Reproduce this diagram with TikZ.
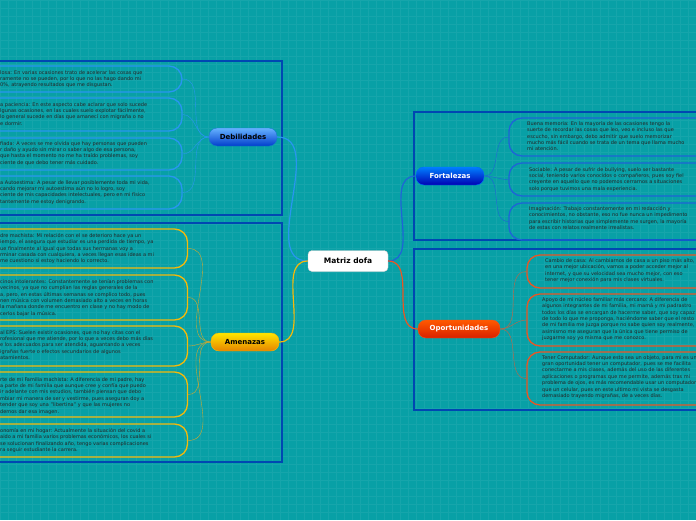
\documentclass[tikz,border=0pt]{standalone}
\usepackage{fontspec}
\setmainfont{DejaVu Sans}
\begin{document}
\begin{tikzpicture}[x=1pt,y=-1pt,
  lt/.style={anchor=north west,inner sep=0pt,align=left,font=\fontsize{5}{6.4}\selectfont,text=black!85},
  leaf/.style={draw,line width=1.3pt,rounded corners=13pt,minimum width=#1},
  br/.style={rounded corners=8pt,minimum width=68pt,minimum height=18pt,font=\fontsize{7}{8}\selectfont\bfseries,inner sep=0pt},
  panel/.style={draw=blue!60!cyan!70!black,line width=1.5pt}]
\definecolor{bg}{RGB}{8,160,166}
\definecolor{dbl}{RGB}{40,150,240}
\definecolor{yel}{RGB}{245,185,10}
\definecolor{fbl}{RGB}{30,100,215}
\definecolor{ored}{RGB}{235,85,35}
\useasboundingbox (0,0) rectangle (696,520);
\clip (0,0) rectangle (696,520);
\fill[bg] (0,0) rectangle (696,520);
\draw[white,opacity=0.06,step=8pt] (0,0) grid (696,520);
% panels
\draw[panel] (-5,61) rectangle (282,215);
\draw[panel] (-5,223) rectangle (282,462);
\draw[panel] (414,112) rectangle (705,240);
\draw[panel] (414,249) rectangle (705,410);
% central
\node[draw=gray!40,fill=white,rounded corners=4pt,minimum width=80pt,minimum height=21pt,font=\fontsize{7.5}{9}\selectfont\bfseries] (m) at (348,261) {Matriz dofa};
\node[br,top color=cyan!50!blue!60,bottom color=blue!70!cyan!80!black,draw=cyan!60!blue] (deb) at (243,137) {Debilidades};
\node[br,top color=yellow!80!orange,bottom color=orange!85!yellow!90!black,draw=yel] (ame) at (245,342) {Amenazas};
\node[br,top color=blue!50!cyan,bottom color=blue!70!black,draw=blue!60!cyan,text=white] (fort) at (450,176) {Fortalezas};
\node[br,top color=orange!70!red,bottom color=red!70!orange!85!black,draw=ored,text=white,minimum width=82pt] (opo) at (459,329) {Oportunidades};
\draw[dbl,line width=1.2pt] (m.west) to[out=180,in=0] (deb.east);
\draw[yel,line width=1.2pt] (m.west) to[out=180,in=0] (ame.east);
\draw[fbl,line width=1.2pt] (m.east) to[out=0,in=180] (fort.west);
\draw[ored,line width=1.2pt] (m.east) to[out=0,in=180] (opo.west);
% Debilidades leaves
\foreach \n/\a/\b in {d1/66/92,d2/98/131,d3/138/170,d4/176/209}{
  \node[leaf=210pt,draw=dbl,minimum height={\b-\a}] (\n) at (77,{(\a+\b)/2}) {};
  \draw[dbl,line width=0.4pt] (deb.west) to[out=180,in=0] (\n.east);}
\node[lt] at (0,70) {losa: En varias ocasiones trato de acelerar las cosas que\\ramente no se pueden, por lo que no las hago dando mi\\0\%, atrayendo resultados que me disgustan.};
\node[lt] at (0,102) {a paciencia: En este aspecto cabe aclarar que solo sucede\\lgunas ocasiones, en las cuales suelo explotar fácilmente,\\lo general sucede en días que amanecí con migraña o no\\e dormir.};
\node[lt] at (0,141) {fiada: A veces se me olvida que hay personas que pueden\\r daño y ayudo sin mirar o saber algo de esa persona,\\que hasta el momento no me ha traído problemas, soy\\ciente de que debo tener más cuidado.};
\node[lt] at (0,180) {a Autoestima: A pesar de llevar posiblemente toda mi vida,\\cando mejorar mi autoestima aún no lo logro, soy\\ciente de mis capacidades intelectuales, pero en mi físico\\tantemente me estoy denigrando.};
% Amenazas leaves
\foreach \n/\a/\b in {a1/229/268,a2/275/320,a3/326/366,a4/372/417,a5/424/457}{
  \node[leaf=215pt,draw=yel,minimum height={\b-\a}] (\n) at (80,{(\a+\b)/2}) {};
  \draw[yel!70!gray,line width=0.4pt] (ame.west) to[out=180,in=0] (\n.east);}
\node[lt] at (0,233) {dre machista: Mi relación con el se deterioro hace ya un\\iempo, el asegura que estudiar es una perdida de tiempo, ya\\ue finalmente al igual que todas sus hermanas voy a\\rminar casada con cualquiera, a veces llegan esas ideas a mi\\me cuestiono si estoy haciendo lo correcto.};
\node[lt] at (0,279) {cinos intolerantes: Constantemente se tenían problemas con\\vecinos, ya que no cumplían las reglas generales de la\\a, pero, en estas últimas semanas se complico todo, pues\\nen música con volumen demasiado alto a veces en horas\\la mañana donde me encuentro en clase y no hay modo de\\cerlos bajar la música.};
\node[lt] at (0,330) {al EPS: Suelen existir ocasiones, que no hay citas con el\\rofesional que me atiende, por lo que a veces debo más días\\e los adecuados para ser atendida, aguantando a veces\\igrañas fuerte o efectos secundarios de algunos\\atamientos.};
\node[lt] at (0,377) {rte de mi Familia machista: A diferencia de mi padre, hay\\a parte de mi familia que aunque cree y confía que puedo\\ir adelante con mis estudios, también piensan que debo\\mbiar mi manera de ser y vestirme, pues aseguran doy a\\tender que soy una "libertina" y que las mujeres no\\demos dar esa imagen.};
\node[lt] at (0,428) {onomía en mi hogar: Actualmente la situación del covid a\\aido a mi familia varios problemas económicos, los cuales si\\se solucionan finalizando año, tengo varias complicaciones\\ra seguir estudiante la carrera.};
% Fortalezas leaves
\foreach \n/\a/\b in {f1/118/156,f2/163/196,f3/203/240}{
  \node[leaf=220pt,draw=fbl,minimum height={\b-\a}] (\n) at (619,{(\a+\b)/2}) {};
  \draw[fbl,line width=0.4pt] (fort.east) to[out=0,in=180] (\n.west);}
\node[lt] at (527,121) {Buena memoria: En la mayoría de las ocasiones tengo la\\suerte de recordar las cosas que leo, veo e incluso las que\\escucho, sin embargo, debo admitir que suelo memorizar\\mucho más fácil cuando se trata de un tema que llama mucho\\mi atención.};
\node[lt] at (529,167) {Sociable: A pesar de sufrir de bullying, suelo ser bastante\\social, teniendo varios conocidos o compañeros, pues soy fiel\\creyente en aquello que no podemos cerrarnos a situaciones\\solo porque tuvimos una mala experiencia.};
\node[lt] at (529,206) {Imaginación: Trabajo constantemente en mi redacción y\\conocimientos, no obstante, eso no fue nunca un impedimento\\para escribir historias que simplemente me surgen, la mayoría\\de estas con relatos realmente irrealistas.};
% Oportunidades leaves
\foreach \n/\a/\b in {o1/255/288,o2/294/346,o3/352/405}{
  \node[leaf=200pt,draw=ored,minimum height={\b-\a}] (\n) at (627,{(\a+\b)/2}) {};
  \draw[ored!70!gray,line width=0.4pt] (opo.east) to[out=0,in=180] (\n.west);}
\node[lt] at (545,258) {Cambio de casa: Al cambiarnos de casa a un piso más alto,\\en una mejor ubicación, vamos a poder acceder mejor al\\internet, y que su velocidad sea mucho mejor, con eso\\tener mejor conexión para mis clases virtuales.};
\node[lt] at (542,297) {Apoyo de mi núcleo familiar más cercano: A diferencia de\\algunos integrantes de mi familia, mi mamá y mi padrastro\\todos los días se encargan de hacerme saber, que soy capaz\\de todo lo que me proponga, haciéndome saber que el resto\\de mi familia me juzga porque no sabe quien soy realmente,\\asimismo me aseguran que la única que tiene permiso de\\juzgarme soy yo misma que me conozco.};
\node[lt] at (542,355) {Tener Computador: Aunque esto sea un objeto, para mi es una\\gran oportunidad tener un computador, pues se me facilita\\conectarme a mis clases, además del uso de las diferentes\\aplicaciones o programas que me permite, además tras mi\\problema de ojos, es más recomendable usar un computador\\que un celular, pues en este ultimo mi vista se desgasta\\demasiado trayendo migrañas, de a veces días.};
\end{tikzpicture}
\end{document}
